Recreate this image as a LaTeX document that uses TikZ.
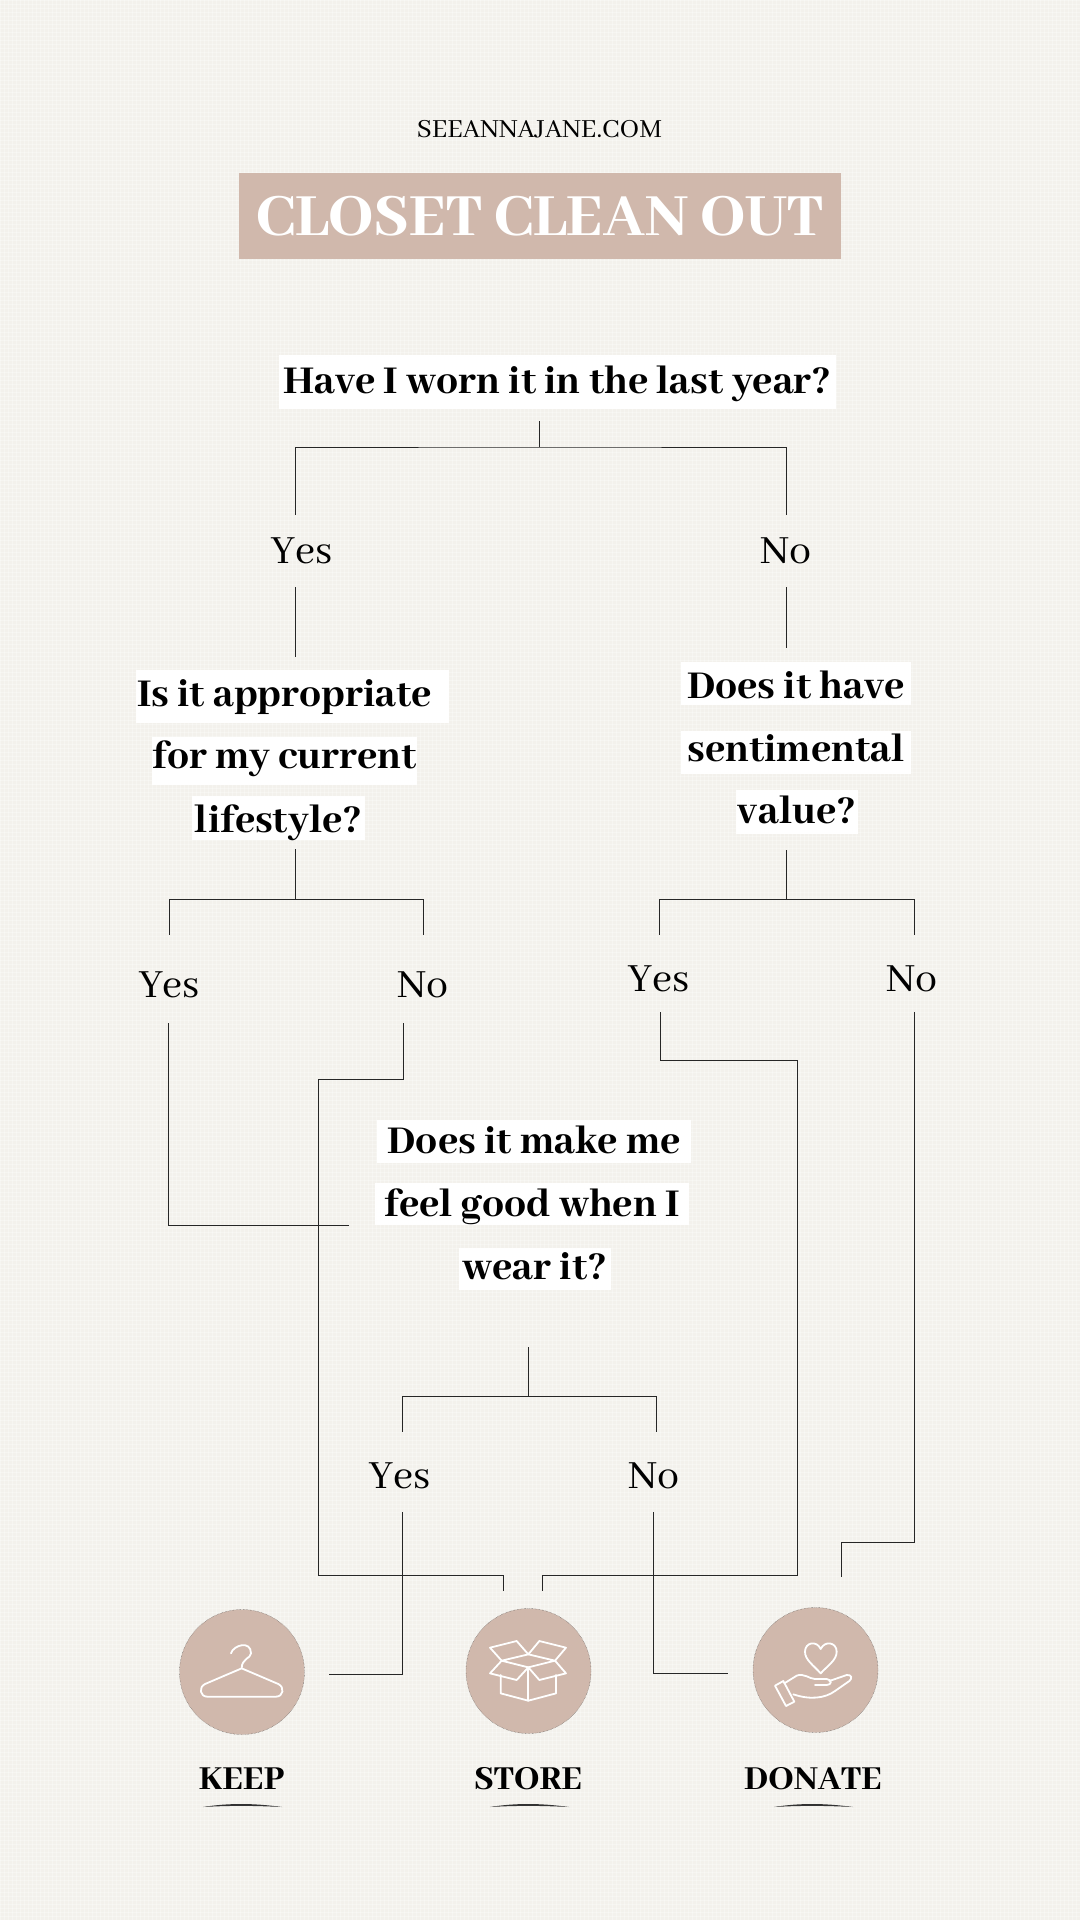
\documentclass[tikz,border=0pt]{standalone}
\usepackage{fontspec}
\setmainfont{Abhaya Libre}[BoldFont={Abhaya Libre ExtraBold}]
\usetikzlibrary{positioning}
\definecolor{linen}{HTML}{F3F1EC}
\definecolor{accent}{HTML}{D0B8AC}
\begin{document}
\begin{tikzpicture}[x=1pt,y=-1pt,
  weave/.style={draw=white,line width=.8pt,opacity=.3},
  ask/.style={fill=white,anchor=base,inner sep=0pt,font=\bfseries\fontsize{43.4}{44}\selectfont},
  answer/.style={anchor=base,inner sep=0pt,text depth=24pt,text height=56pt,font=\fontsize{44}{44}\selectfont},
  bin/.style={circle,fill=accent,draw=black!70,densely dotted,line width=.4pt,minimum size=125pt,inner sep=0pt},
  binname/.style={anchor=base,inner sep=0pt,font=\bfseries\fontsize{37}{37}\selectfont},
  link/.style={draw=black!85,line width=1pt},
  glyph/.style={draw=white,line width=1.8pt,line join=round,line cap=round}]

\useasboundingbox (0,0) rectangle (1080,1920);
\fill[linen] (0,0) rectangle (1080,1920);
\foreach \gx in {0,4,...,1080} \draw[weave] (\gx,0) -- (\gx,1920);
\foreach \gy in {0,4,...,1920} \draw[weave] (0,\gy) -- (1080,\gy);

\node[anchor=base,inner sep=0pt,font=\fontsize{28.7}{29}\selectfont] (site) at (539.5,137) {SEEANNAJANE.COM};
\node[fill=accent,minimum width=601.5pt,minimum height=86pt,inner sep=0pt,text=white,
  font=\bfseries\fontsize{66}{66}\selectfont] (title) at (540,216) {CLOSET CLEAN OUT};

\node[ask,minimum width=557pt,text height=38pt,text depth=16pt] (qYear) at (557.5,393) {Have I worn it in the last year?};

\node[ask,minimum width=313pt,text height=36pt,text depth=17pt] (qLifeA) at (292.5,706) {Is it appropriate\hspace*{16pt}};
\node[ask,minimum width=265pt,text height=31pt,text depth=17pt] (qLifeB) at (284.5,768) {for my current};
\node[ask,minimum width=173pt,text height=36pt,text depth=8pt] (qLifeC) at (278.5,832) {lifestyle?};

\node[ask,minimum width=230pt,text height=36pt,text depth=7pt] (qSentA) at (796,698) {Does it have};
\node[ask,minimum width=230pt,text height=30pt,text depth=13pt] (qSentB) at (796,761) {sentimental};
\node[ask,minimum width=122pt,text height=33pt,text depth=11pt] (qSentC) at (797,823) {value?};

\node[ask,minimum width=314pt,text height=33pt,text depth=10pt] (qFeelA) at (534,1153) {Does it make me};
\node[ask,minimum width=314pt,text height=33pt,text depth=9pt] (qFeelB) at (532,1216) {feel good when I};
\node[ask,minimum width=152pt,text height=31pt,text depth=11pt] (qFeelC) at (535,1279) {wear it?};

\node[answer,text height=48pt] (yesTop) at (302,563) {Yes};
\node[answer,text height=48pt] (noTop) at (786,563) {No};
\node[answer,text height=62pt,text depth=26pt] (yesLife) at (169.5,997) {Yes};
\node[answer,text height=62pt,text depth=26pt] (noLife) at (423,997) {No};
\node[answer,text depth=21pt] (yesSent) at (659,991) {Yes};
\node[answer,text depth=21pt] (noSent) at (912,991) {No};
\node[answer] (yesFeel) at (400,1488) {Yes};
\node[answer] (noFeel) at (654,1488) {No};

\node[bin] (keepIcon) at (242,1672) {};
\node[bin] (storeIcon) at (528.5,1671) {};
\node[bin] (donateIcon) at (815.5,1670) {};

\node[binname] (keepName) at (241.5,1789) {KEEP};
\node[binname] (storeName) at (528,1789) {STORE};
\node[binname] (donateName) at (813,1789) {DONATE};

\coordinate (forkTop) at (539,447);
\coordinate (forkLife) at (295.5,899);
\coordinate (forkSent) at (786.5,899);
\coordinate (forkFeel) at (528.5,1396);
\coordinate (bendLife) at (318,1079.5);
\coordinate (bendSent) at (797,1060);
\coordinate (bendDonate) at (841,1542);
\coordinate (storeLeft) at (503.5,1575);
\coordinate (storeRight) at (542,1575);

\draw[link] ([yshift=-12pt]forkTop |- qYear.south) -- (forkTop);
\draw[link] ([xshift=-7pt]yesTop.north) |- (forkTop) -| (noTop.north);
\draw[link] ([xshift=-7pt]yesTop.south) -- ([xshift=-7pt,yshift=13pt]yesTop.south |- qLifeA.north);
\draw[link] (noTop.south) -- ([yshift=14pt]noTop.south |- qSentA.north);

\draw[link] ([yshift=-9pt]forkLife |- qLifeC.south) -- (forkLife);
\draw[link] (yesLife.north) |- (forkLife) -| (noLife.north);
\draw[link] ([yshift=-16pt]forkSent |- qSentC.south) -- (forkSent);
\draw[link] (yesSent.north) |- (forkSent) -| ([xshift=2pt]noSent.north);

\draw[link] ([xshift=-1.5pt]yesLife.south) |- ([xshift=-26pt]qFeelB.south west);
\draw[link] ([xshift=-20pt]noLife.south) |- (bendLife) |- (storeLeft) -- ([xshift=-25pt,yshift=17pt]storeIcon.north);
\draw[link] ([xshift=1pt]yesSent.south) |- (bendSent) |- (storeRight) -- ([xshift=13.5pt,yshift=17pt]storeIcon.north);
\draw[link] ([xshift=2pt]noSent.south) |- (bendDonate) -- ([xshift=25.5pt,yshift=30pt]donateIcon.north);

\draw[link] ([yshift=-57pt]forkFeel |- qFeelC.south) -- (forkFeel);
\draw[link] ([xshift=2pt]yesFeel.north) |- (forkFeel) -| ([xshift=2pt]noFeel.north);
\draw[link] ([xshift=2pt]yesFeel.south) |- ([xshift=24pt,yshift=-2pt]keepIcon.east);
\draw[link] ([xshift=-1pt]noFeel.south) |- ([xshift=-25pt,yshift=-3pt]donateIcon.west);

% icons are traced at three times their size
\begin{scope}[shift={(170,1610)},scale=1/3]
  \draw[glyph] (183,130) .. controls (190,105) and (243,90) .. (243,130)
    .. controls (243,145) and (215,145) .. (215,175);
  \draw[glyph] (215,175) -- (325,222) .. controls (345,232) and (340,260) .. (318,260)
    -- (112,260) .. controls (90,260) and (85,232) .. (105,222) -- cycle;
\end{scope}
\begin{scope}[shift={(460,1605)},scale=1/3]
  \draw[glyph] (205,148) -- (125,167) -- (205,187) -- (285,167) -- cycle;
  \draw[glyph] (125,167) -- (90,128) -- (170,108) -- (205,148) -- (238,108) -- (318,128) -- (285,167);
  \draw[glyph] (125,167) -- (90,205) -- (170,225) -- (205,187) -- (238,225) -- (318,205) -- (285,167);
  \draw[glyph] (122,210) -- (122,265) -- (205,287) -- (288,265) -- (288,210);
  \draw[glyph] (205,187) -- (205,287);
\end{scope}
\begin{scope}[shift={(750,1605)},scale=1/3]
  \draw[glyph] (212,205) .. controls (190,180) and (165,165) .. (165,140)
    .. controls (165,112) and (200,105) .. (212,132)
    .. controls (225,105) and (260,112) .. (260,140)
    .. controls (260,165) and (235,180) .. (212,205) -- cycle;
  \draw[glyph] (75,242) -- (100,228) -- (133,290) -- (108,303) -- cycle;
  \draw[glyph] (103,235) -- (140,212) .. controls (160,203) and (180,222) .. (195,222)
    -- (230,222) .. controls (248,224) and (245,240) .. (230,240) -- (195,240);
  \draw[glyph] (238,228) -- (290,210) .. controls (305,208) and (308,220) .. (298,228)
    -- (255,258) .. controls (225,280) and (180,285) .. (130,268);
\end{scope}

\foreach \ux in {203,490,774}
  \fill[black!80] (\ux,1807) .. controls (\ux+25,1803) and (\ux+50,1803) .. (\ux+79,1807)
    .. controls (\ux+50,1805.5) and (\ux+25,1805.5) .. cycle;
\end{tikzpicture}
\end{document}
